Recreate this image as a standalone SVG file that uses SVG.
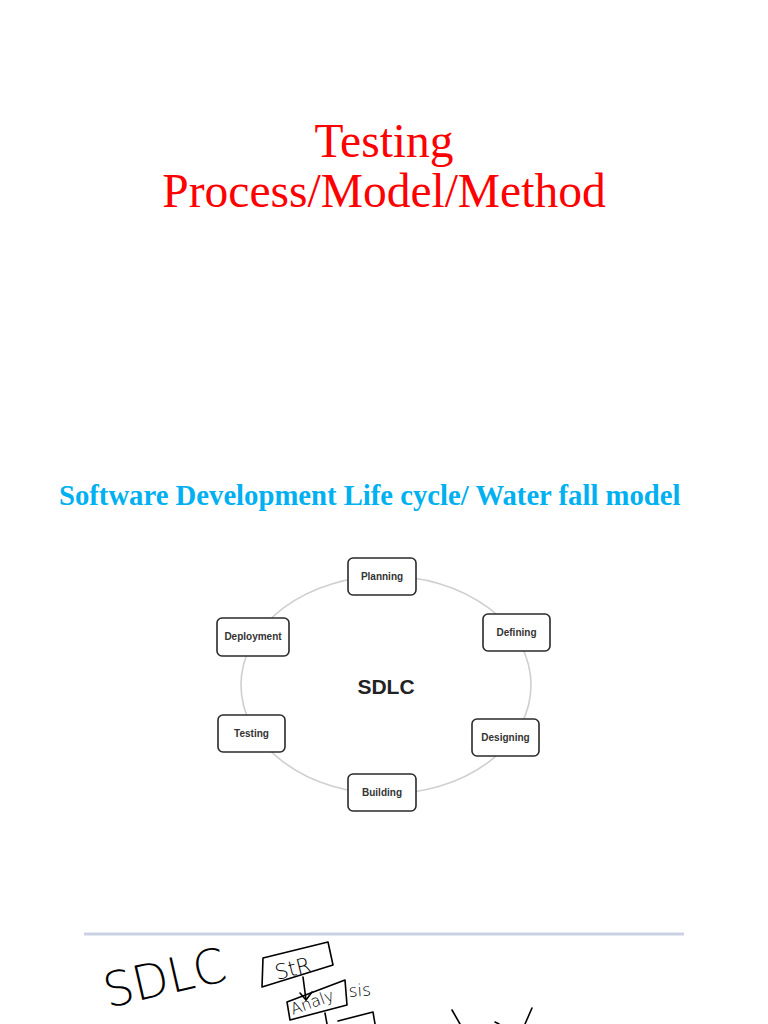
<svg xmlns="http://www.w3.org/2000/svg" width="768" height="1024" viewBox="0 0 768 1024">
<style>
.title{font-family:"Liberation Serif","Times New Roman",serif;font-size:47.5px;fill:#ff0000;text-anchor:middle}
.sub{font-family:"Liberation Serif","Times New Roman",serif;font-size:28.7px;font-weight:bold;fill:#00b0f0}
.box{fill:#ffffff;stroke:#2a2a2a;stroke-width:1.6}
.lbl{font-family:"Liberation Sans",Arial,sans-serif;font-size:10px;font-weight:bold;fill:#333333;text-anchor:middle}
.hand{fill:none;stroke:#000;stroke-width:1.6;stroke-linecap:round;stroke-linejoin:round}
.htxt{font-family:"DejaVu Sans",sans-serif;font-weight:200;fill:#000}
</style>
<rect width="768" height="1024" fill="#ffffff"/>
<text class="title" x="384" y="157">Testing</text>
<text class="title" x="384" y="207">Process/Model/Method</text>
<text class="sub" x="59" y="505">Software Development Life cycle/ Water fall model</text>
<g id="connectors">
<ellipse cx="386" cy="685" rx="145" ry="109" fill="none" stroke="#cfcfcf" stroke-width="1.6"/>
</g>
<g id="center"><text x="386" y="694" font-family="'Liberation Sans',Arial,sans-serif" font-size="21" font-weight="bold" fill="#222" text-anchor="middle">SDLC</text></g>
<g id="planning"><rect class="box" x="348" y="558" width="68" height="37" rx="5"/><text class="lbl" x="382" y="580">Planning</text></g>
<g id="defining"><rect class="box" x="483" y="614" width="67" height="37" rx="5"/><text class="lbl" x="516.5" y="636">Defining</text></g>
<g id="designing"><rect class="box" x="472" y="719" width="67" height="37" rx="5"/><text class="lbl" x="505.5" y="741">Designing</text></g>
<g id="building"><rect class="box" x="348" y="774" width="68" height="37" rx="5"/><text class="lbl" x="382" y="796">Building</text></g>
<g id="testing"><rect class="box" x="218" y="715" width="67" height="37" rx="5"/><text class="lbl" x="251.5" y="737">Testing</text></g>
<g id="deployment"><rect class="box" x="217" y="618" width="72" height="38" rx="5"/><text class="lbl" x="253" y="640">Deployment</text></g>
<line x1="84" y1="934" x2="684" y2="934" stroke="#c9d1e2" stroke-width="3"/>
<g id="handwriting">
<text class="htxt" x="108" y="1008" font-size="48" textLength="124" lengthAdjust="spacingAndGlyphs" transform="rotate(-13 108 1008)">SDLC</text>
<polygon class="hand" points="263,958 328,942 333,965 262,987"/>
<text class="htxt" x="277" y="980" font-size="21" transform="rotate(-14 277 980)">StR</text>
<polyline class="hand" points="303,977 306,1000"/>
<polyline class="hand" points="300,993 306,1000 312,992"/>
<polygon class="hand" points="287,1002 345,980 347,1005 290,1020"/>
<text class="htxt" x="293" y="1015" font-size="16" transform="rotate(-20 293 1015)">Analy</text>
<text class="htxt" x="349" y="997" font-size="17" transform="rotate(-4 349 997)">sis</text>
<polyline class="hand" points="325,1013 327,1024"/>
<polyline class="hand" points="338,1021 373,1012 375,1024"/>
<line class="hand" x1="452" y1="1010" x2="460" y2="1024"/>
<line class="hand" x1="495" y1="1022" x2="499" y2="1024"/>
<line class="hand" x1="532" y1="1008" x2="525" y2="1024"/>
</g>
</svg>
